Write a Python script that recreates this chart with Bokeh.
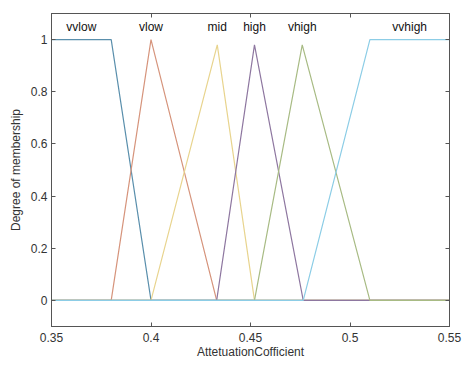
from bokeh.plotting import figure
from bokeh.models import LinearAxis, Range1d, FixedTicker, Label
from bokeh.embed import file_html
from bokeh.resources import INLINE

# Membership function vertices (x, degree)
mf_names = ["vvlow", "vlow", "mid", "high", "vhigh", "vvhigh"]
vvlow_x = [0.35, 0.38, 0.40, 0.55]
vvlow_y = [1.0, 1.0, 0.0, 0.0]
vlow_x = [0.35, 0.38, 0.40, 0.433, 0.55]
vlow_y = [0.0, 0.0, 1.0, 0.0, 0.0]
mid_x = [0.35, 0.40, 0.4333, 0.452, 0.55]
mid_y = [0.0, 0.0, 0.98, 0.0, 0.0]
high_x = [0.35, 0.433, 0.452, 0.4765, 0.55]
high_y = [0.0, 0.0, 0.98, 0.0, 0.0]
vhigh_x = [0.35, 0.452, 0.476, 0.51, 0.55]
vhigh_y = [0.0, 0.0, 0.98, 0.0, 0.0]
vvhigh_x = [0.35, 0.4765, 0.51, 0.55]
vvhigh_y = [0.0, 0.0, 1.0, 1.0]
label_x = [0.365, 0.40, 0.4333, 0.452, 0.476, 0.53]
label_y = 1.05
x_ticks = [0.35, 0.40, 0.45, 0.50, 0.55]
x_tick_labels = ["0.35", "0.4", "0.45", "0.5", "0.55"]
y_ticks = [0, 0.2, 0.4, 0.6, 0.8, 1.0]
y_tick_labels = ["0", "0.2", "0.4", "0.6", "0.8", "1"]

colors = ["#5a8fac", "#d6947c", "#e8d48e", "#8e77a0", "#a8bb84", "#8ccde6"]
series = [(vvlow_x, vvlow_y), (vlow_x, vlow_y), (mid_x, mid_y),
          (high_x, high_y), (vhigh_x, vhigh_y), (vvhigh_x, vvhigh_y)]

FONT = "Liberation Sans"
TXT = "#333333"

p = figure(frame_width=398, frame_height=313, output_backend="svg", toolbar_location=None,
           x_range=Range1d(0.35, 0.55), y_range=Range1d(-0.1, 1.1),
           min_border_left=51, min_border_right=25, min_border_top=13,
           min_border_bottom=0)
p.xgrid.visible = False
p.ygrid.visible = False
p.outline_line_color = "#555555"
p.background_fill_color = "white"

for (xs, ys), c in zip(series, colors):
    p.line(xs, ys, line_color=c, line_width=1.2)

for name, lx in zip(mf_names, label_x):
    p.add_layout(Label(x=lx, y=label_y, text=name, text_align="center",
                       text_baseline="middle", text_font=FONT,
                       text_font_size="12px", text_color="#111111"))

def style(ax, show_labels):
    ax.axis_line_color = "#555555"
    ax.major_tick_line_color = "#555555"
    ax.major_tick_in = 4
    ax.major_tick_out = 0
    ax.minor_tick_in = 0
    ax.minor_tick_out = 0
    ax.major_label_text_font = FONT
    ax.major_label_text_font_size = "12px"
    ax.major_label_text_color = TXT
    ax.axis_label_text_font = FONT
    ax.axis_label_text_font_size = "12px"
    ax.axis_label_text_font_style = "normal"
    ax.axis_label_text_color = TXT
    if not show_labels:
        ax.major_label_text_font_size = "0px"
        ax.major_label_text_alpha = 0
        ax.major_label_standoff = 0

xa = p.xaxis[0]
xa.ticker = FixedTicker(ticks=x_ticks)
xa.major_label_overrides = {t: l for t, l in zip(x_ticks, x_tick_labels)}
xa.axis_label = "AttetuationCofficient"
style(xa, True)
xa.major_label_standoff = 6
xa.axis_label_standoff = 0

ya = p.yaxis[0]
ya.ticker = FixedTicker(ticks=y_ticks)
ya.major_label_overrides = {t: l for t, l in zip(y_ticks, y_tick_labels)}
ya.axis_label = "Degree of membership"
style(ya, True)
ya.major_label_standoff = 4
ya.axis_label_standoff = 5

ra = LinearAxis(ticker=FixedTicker(ticks=y_ticks))
style(ra, False)
p.add_layout(ra, "right")
ta = LinearAxis(ticker=FixedTicker(ticks=x_ticks))
style(ta, False)
p.add_layout(ta, "above")

open("out.html", "w").write(file_html(p, INLINE))
